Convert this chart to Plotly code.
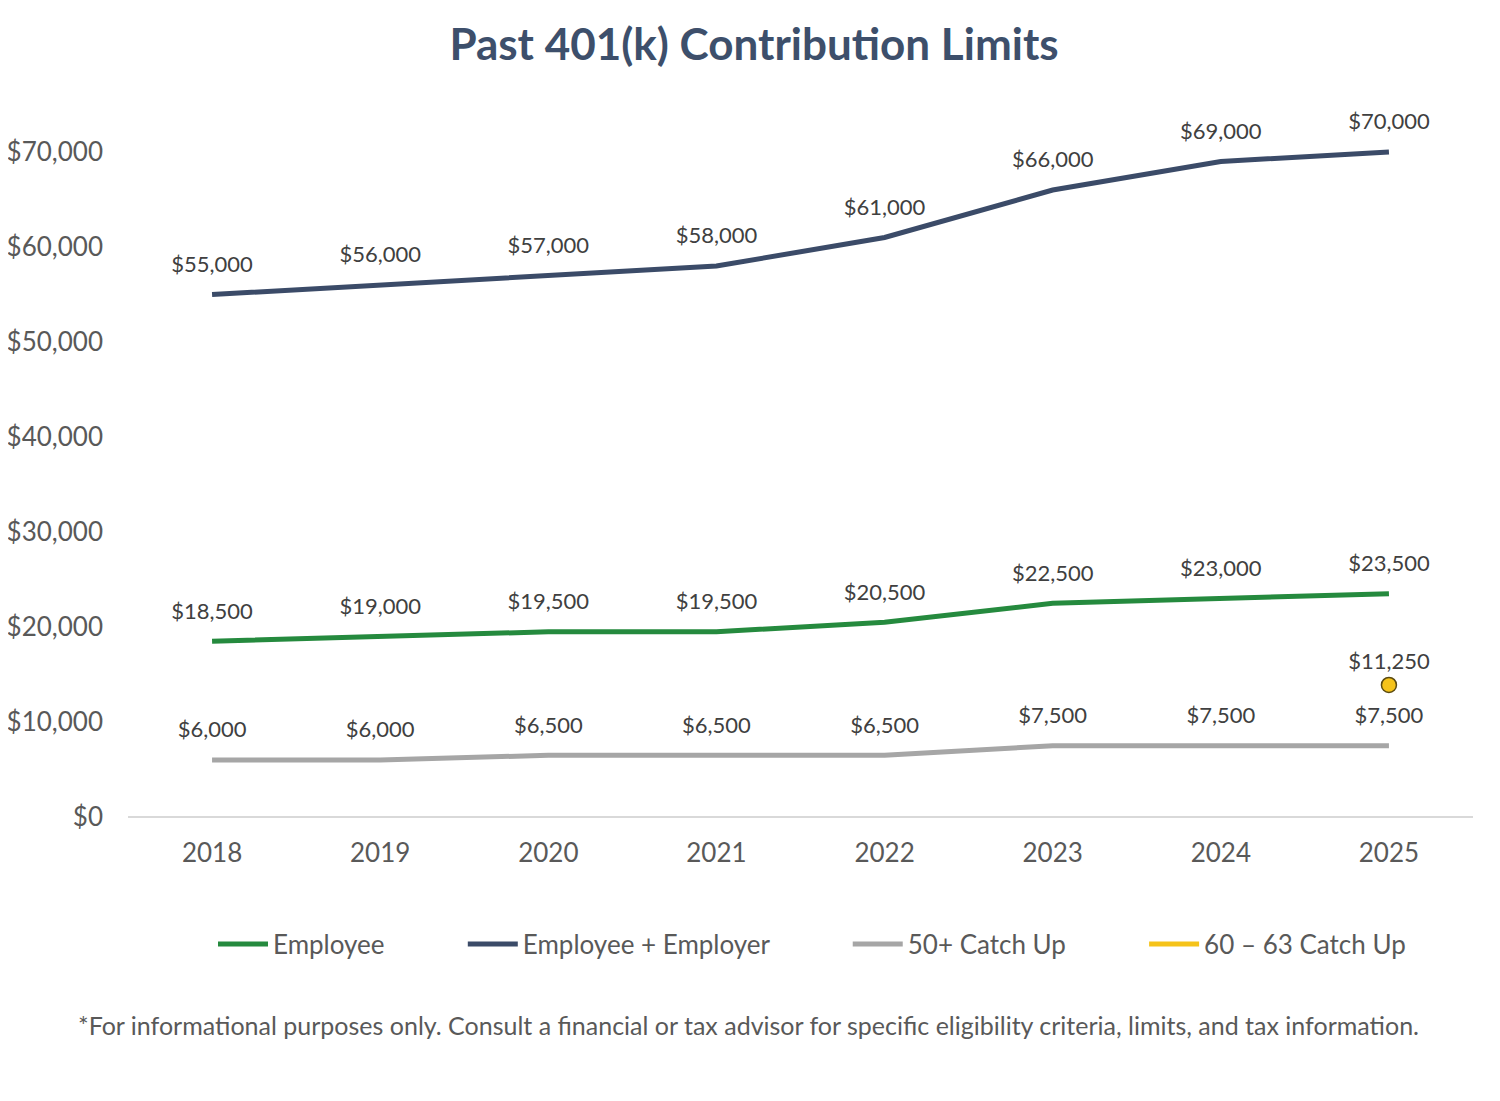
import plotly.graph_objects as go

years = ["2018", "2019", "2020", "2021", "2022", "2023", "2024", "2025"]
employee = [18500, 19000, 19500, 19500, 20500, 22500, 23000, 23500]
employee_employer = [55000, 56000, 57000, 58000, 61000, 66000, 69000, 70000]
catch_up_50 = [6000, 6000, 6500, 6500, 6500, 7500, 7500, 7500]
# the 60-63 point sits higher than its value in the original, so it stays clear of the $7,500 label
catch_up_60_year = ["2025"]
catch_up_60_label = [11250]
catch_up_60_drawn = [13900]

y_ticks = [0, 10000, 20000, 30000, 40000, 50000, 60000, 70000]

navy = "#3b4b68"
green = "#258a3e"
grey = "#a6a6a6"
gold = "#f5c31a"
font = "Lato, 'Open Sans', sans-serif"
pad = "\u00a0" * 11   # extra room between legend entries

# page body has an 8px margin, so the figure is a bit smaller than the window
W, H = 1492, 1093


def money(v):
    return "${:,.0f}".format(v)


fig = go.Figure()

for name, vals, col in [("Employee" + pad, employee, green),
                        ("Employee + Employer" + pad, employee_employer, navy),
                        ("50+ Catch Up" + pad, catch_up_50, grey)]:
    fig.add_trace(go.Scatter(
        x=years, y=vals, name=name,
        mode="lines+markers+text",
        line=dict(color=col, width=5),
        marker=dict(size=26, color="rgba(0,0,0,0)"),
        text=[money(v) for v in vals],
        textposition="top center",
        textfont=dict(size=22, color="#404040", family=font),
    ))

# marker for 60-63, legend shown via a line-only entry
fig.add_trace(go.Scatter(
    x=catch_up_60_year, y=catch_up_60_drawn, mode="markers+text",
    showlegend=False,
    marker=dict(size=15, color=gold, line=dict(color="#5a4a10", width=1.5)),
    text=[money(v) for v in catch_up_60_label],
    textposition="top center",
    textfont=dict(size=22, color="#404040", family=font),
))
fig.add_trace(go.Scatter(
    x=[None], y=[None], name="60 \u2013 63 Catch Up", mode="lines",
    line=dict(color=gold, width=5),
))

fig.update_layout(
    width=W, height=H,
    paper_bgcolor="white", plot_bgcolor="white",
    margin=dict(l=120, r=27, t=49, b=284, autoexpand=False),
    font=dict(family=font, color="#595959"),
    title=dict(text="<b>Past 401(k) Contribution Limits</b>",
               font=dict(size=44, color="#3d4f6b", family=font),
               x=0.5, xanchor="center", y=1 - 37 / H, yanchor="middle"),
    legend=dict(orientation="h", xref="container", yref="container",
                x=205 / W, xanchor="left", y=1 - 936 / H, yanchor="middle",
                font=dict(size=26, color="#595959", family=font),
                itemwidth=50, traceorder="normal"),
    showlegend=True,
)
fig.update_xaxes(type="category", range=[-0.5, 7.5], showgrid=False,
                 showline=False, zeroline=False, ticks="", automargin=False,
                 ticklabelstandoff=18,
                 tickfont=dict(size=26, color="#595959"))
fig.update_yaxes(range=[0, 80000], tickvals=y_ticks,
                 ticktext=[money(v) for v in y_ticks],
                 showgrid=False, zeroline=True, zerolinecolor="#d9d9d9",
                 zerolinewidth=2, showline=False, ticks="", automargin=False,
                 ticklabelstandoff=24,
                 tickfont=dict(size=26, color="#595959"))

fig.add_annotation(
    text="*For informational purposes only. Consult a financial or tax advisor for specific eligibility criteria, limits, and tax information.",
    xref="paper", yref="paper", x=(740 - 120) / 1345, y=(809 - 1017) / 760,
    xanchor="center", yanchor="middle",
    showarrow=False, font=dict(size=25, color="#595959", family=font),
)

fig.write_html("out.html")
